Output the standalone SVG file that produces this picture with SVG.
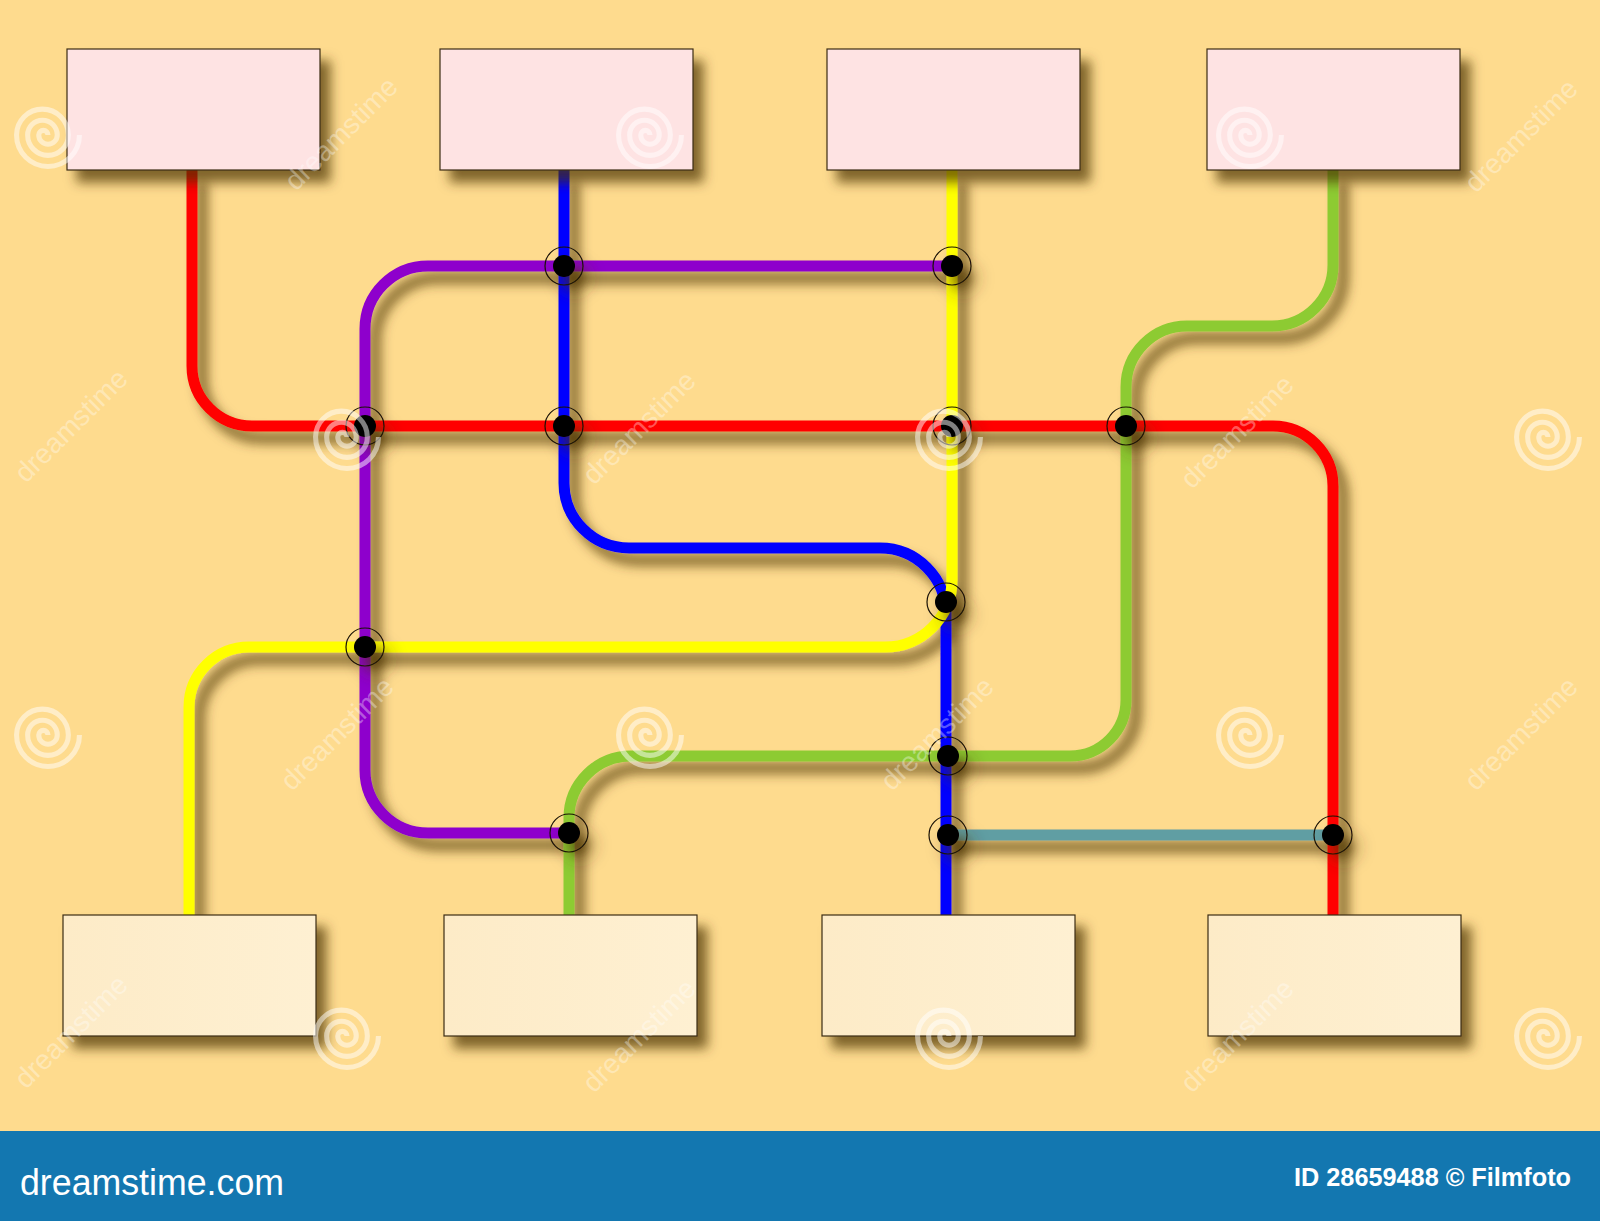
<svg xmlns="http://www.w3.org/2000/svg" xmlns:xlink="http://www.w3.org/1999/xlink" width="1600" height="1221" viewBox="0 0 1600 1221">
<defs>
<style>
.box{stroke:#3b2c12;stroke-width:1.2}
.top{fill:#fee3e3}
.bot{fill:url(#botGrad)}
.ln{fill:none;stroke-width:11;stroke-linecap:butt;stroke-linejoin:round}
.red{stroke:#ff0000}.blue{stroke:#0000ff}.yellow{stroke:#ffff00}
.purple{stroke:#8e00cc}.green{stroke:#8dcb33}.teal{stroke:#609ea3}
.dot{fill:#000}
.ring{fill:none;stroke:#1a1208;stroke-width:1.2}
.wm{font-family:"Liberation Sans",Arial,sans-serif;font-size:28px;fill:#ffffff;fill-opacity:0.35}
.sp{fill:none;stroke:#ffffff;stroke-opacity:0.5;stroke-width:5.5}
.foot{font-family:"Liberation Sans",Arial,sans-serif;fill:#ffffff}
</style>
<linearGradient id="botGrad" x1="0" y1="0" x2="1" y2="0">
<stop offset="0" stop-color="#fdebc7"/><stop offset="1" stop-color="#fef0d2"/>
</linearGradient>
<filter id="shadow" filterUnits="userSpaceOnUse" x="0" y="0" width="1600" height="1221">
<feGaussianBlur in="SourceAlpha" stdDeviation="6"/>
<feOffset dx="10" dy="12" result="b"/>
<feFlood flood-color="#4a3208" flood-opacity="0.7"/>
<feComposite in2="b" operator="in" result="s"/>
<feMerge><feMergeNode in="s"/><feMergeNode in="SourceGraphic"/></feMerge>
</filter>
<symbol id="spiral" viewBox="-40 -40 80 80" overflow="visible">
<path class="sp" d="M34,0 A34,34 0 0 1 -34,0 A28,28 0 0 1 22,0 A22,22 0 0 1 -22,0 A16,16 0 0 1 10,0 A10,10 0 0 1 -10,0 A5,5 0 0 1 0,0"/>
</symbol>
</defs>
<rect x="0" y="0" width="1600" height="1221" fill="#fedb8e"/>

<g id="connectors" filter="url(#shadow)">
<path id="line-red" class="ln red" d="M192,170 V366 A60,60 0 0 0 252,426 H1273 A60,60 0 0 1 1333,486 V915"/>
<path id="line-blue" class="ln blue" d="M564,170 V483 A65,65 0 0 0 629,548 H880 A66,66 0 0 1 946,614 V915"/>
<path id="line-yellow" class="ln yellow" d="M952,170 V580 A67,67 0 0 1 885,647 H249 A60,60 0 0 0 189,707 V915"/>
<path id="line-purple" class="ln purple" d="M952,266 H428 A63,63 0 0 0 365,329 V770 A63,63 0 0 0 428,833 H569"/>
<path id="line-green" class="ln green" d="M1333,170 V265 A61,61 0 0 1 1272,326 H1187 A61,61 0 0 0 1126,387 V700 A56,56 0 0 1 1070,756 H631 A62,62 0 0 0 569,818 V915"/>
<path id="line-teal" class="ln teal" d="M946,835 H1333"/>
</g>

<g id="junctions" filter="url(#shadow)">
<g id="j1"><circle class="dot" cx="564" cy="266" r="11"/><circle class="ring" cx="564" cy="266" r="19"/></g>
<g id="j2"><circle class="dot" cx="952" cy="266" r="11"/><circle class="ring" cx="952" cy="266" r="19"/></g>
<g id="j3"><circle class="dot" cx="365" cy="426" r="11"/><circle class="ring" cx="365" cy="426" r="19"/></g>
<g id="j4"><circle class="dot" cx="564" cy="426" r="11"/><circle class="ring" cx="564" cy="426" r="19"/></g>
<g id="j5"><circle class="dot" cx="952" cy="426" r="11"/><circle class="ring" cx="952" cy="426" r="19"/></g>
<g id="j6"><circle class="dot" cx="1126" cy="426" r="11"/><circle class="ring" cx="1126" cy="426" r="19"/></g>
<g id="j7"><circle class="dot" cx="946" cy="602" r="11"/><circle class="ring" cx="946" cy="602" r="19"/></g>
<g id="j8"><circle class="dot" cx="365" cy="647" r="11"/><circle class="ring" cx="365" cy="647" r="19"/></g>
<g id="j9"><circle class="dot" cx="948" cy="756" r="11"/><circle class="ring" cx="948" cy="756" r="19"/></g>
<g id="j10"><circle class="dot" cx="569" cy="833" r="11"/><circle class="ring" cx="569" cy="833" r="19"/></g>
<g id="j11"><circle class="dot" cx="948" cy="835" r="11"/><circle class="ring" cx="948" cy="835" r="19"/></g>
<g id="j12"><circle class="dot" cx="1333" cy="835" r="11"/><circle class="ring" cx="1333" cy="835" r="19"/></g>
</g>

<g id="boxes" filter="url(#shadow)">
<g id="top1"><rect class="box top" x="67" y="49" width="253" height="121"/></g>
<g id="top2"><rect class="box top" x="440" y="49" width="253" height="121"/></g>
<g id="top3"><rect class="box top" x="827" y="49" width="253" height="121"/></g>
<g id="top4"><rect class="box top" x="1207" y="49" width="253" height="121"/></g>
<g id="bot1"><rect class="box bot" x="63" y="915" width="253" height="121"/></g>
<g id="bot2"><rect class="box bot" x="444" y="915" width="253" height="121"/></g>
<g id="bot3"><rect class="box bot" x="822" y="915" width="253" height="121"/></g>
<g id="bot4"><rect class="box bot" x="1208" y="915" width="253" height="121"/></g>
</g>

<g id="watermark">
<use xlink:href="#spiral" x="11" y="98" width="74" height="74"/>
<use xlink:href="#spiral" x="613" y="98" width="74" height="74"/>
<use xlink:href="#spiral" x="1213" y="98" width="74" height="74"/>
<use xlink:href="#spiral" x="310" y="400" width="74" height="74"/>
<use xlink:href="#spiral" x="912" y="400" width="74" height="74"/>
<use xlink:href="#spiral" x="1511" y="400" width="74" height="74"/>
<use xlink:href="#spiral" x="11" y="698" width="74" height="74"/>
<use xlink:href="#spiral" x="613" y="698" width="74" height="74"/>
<use xlink:href="#spiral" x="1213" y="698" width="74" height="74"/>
<use xlink:href="#spiral" x="310" y="999" width="74" height="74"/>
<use xlink:href="#spiral" x="912" y="999" width="74" height="74"/>
<use xlink:href="#spiral" x="1511" y="999" width="74" height="74"/>
<text class="wm" transform="translate(296,192) rotate(-45)">dreamstime</text>
<text class="wm" transform="translate(26,484) rotate(-45)">dreamstime</text>
<text class="wm" transform="translate(594,486) rotate(-45)">dreamstime</text>
<text class="wm" transform="translate(1192,490) rotate(-45)">dreamstime</text>
<text class="wm" transform="translate(1476,194) rotate(-45)">dreamstime</text>
<text class="wm" transform="translate(292,792) rotate(-45)">dreamstime</text>
<text class="wm" transform="translate(892,792) rotate(-45)">dreamstime</text>
<text class="wm" transform="translate(1476,792) rotate(-45)">dreamstime</text>
<text class="wm" transform="translate(26,1090) rotate(-45)">dreamstime</text>
<text class="wm" transform="translate(594,1094) rotate(-45)">dreamstime</text>
<text class="wm" transform="translate(1192,1094) rotate(-45)">dreamstime</text>
</g>

<g id="footer">
<rect x="0" y="1131" width="1600" height="90" fill="#1377b0"/>
<text class="foot" x="20" y="1195" font-size="36" textLength="264" lengthAdjust="spacingAndGlyphs">dreamstime.com</text>
<text class="foot" x="1294" y="1186" font-size="26" font-weight="bold" textLength="277" lengthAdjust="spacingAndGlyphs">ID 28659488 © Filmfoto</text>
</g>
</svg>
